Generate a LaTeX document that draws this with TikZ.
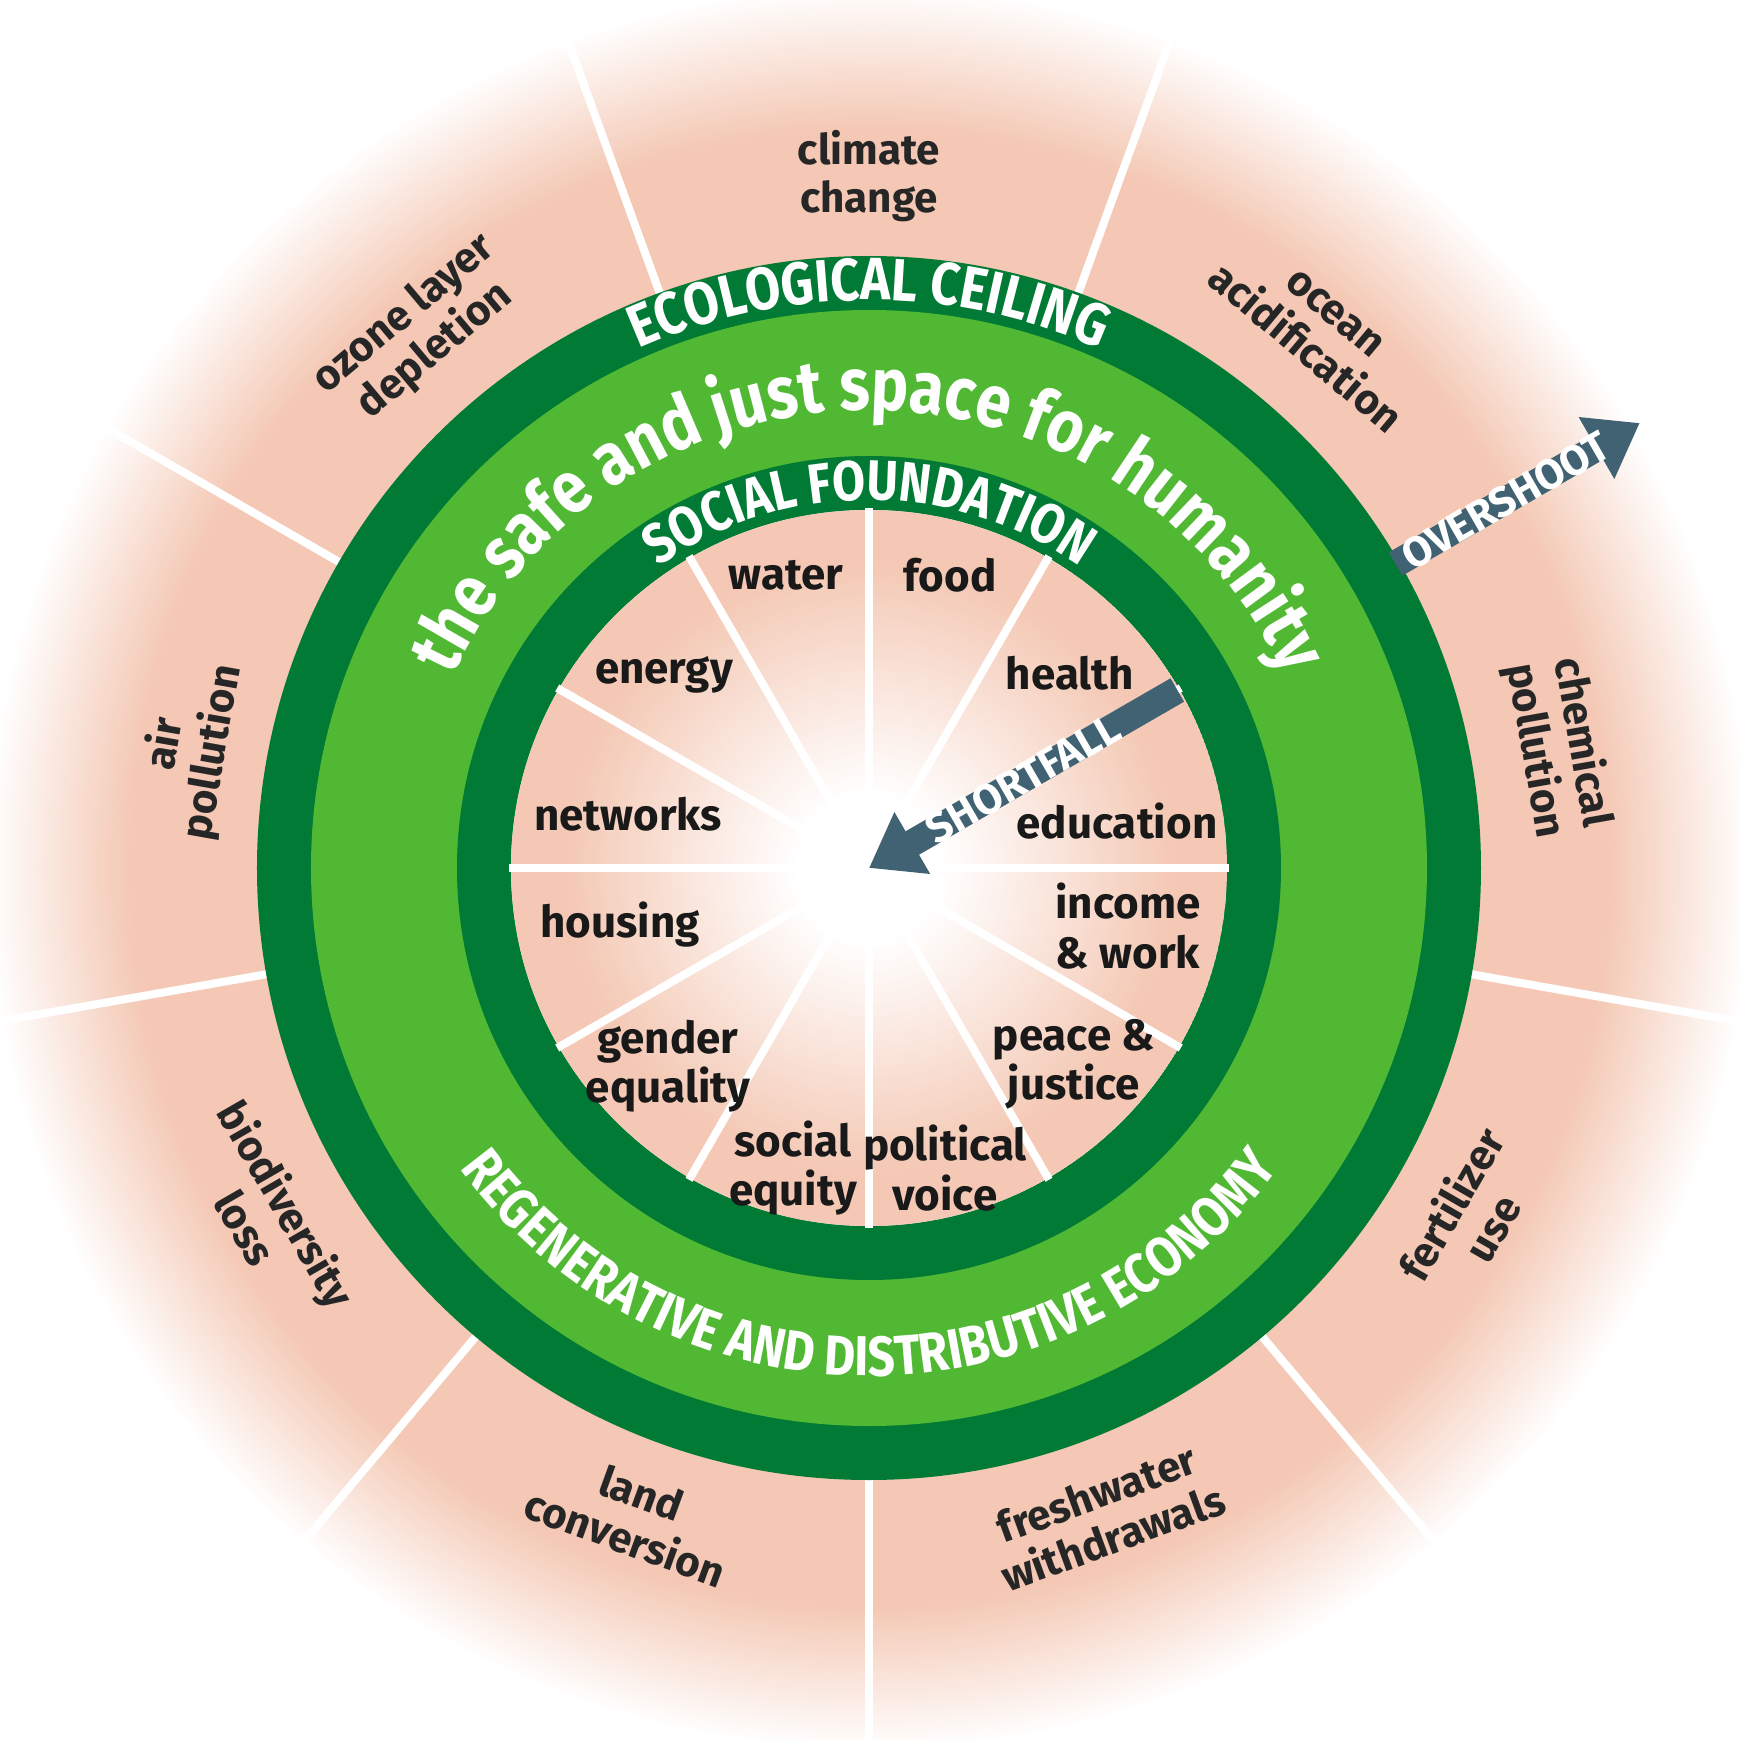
\documentclass[tikz,border=0pt]{standalone}
\usepackage{fontspec}
\setmainfont{Fira Sans}
\newfontfamily\capsfont[FakeStretch=0.85]{Fira Sans}
\usepackage{tikz}
\usetikzlibrary{positioning,arrows.meta,decorations.text}
\definecolor{salmon}{RGB}{244,200,180}
\definecolor{ceilgreen}{RGB}{0,122,52}
\definecolor{spacegreen}{RGB}{80,184,50}
\definecolor{arrowblue}{RGB}{64,98,114}
\pgfdeclareradialshading{donutglow}{\pgfpoint{0bp}{0bp}}{%
  color(0bp)=(white); color(2bp)=(white); color(8.5bp)=(salmon);
  color(20.5bp)=(salmon); color(24.5bp)=(white); color(50bp)=(white)}
\tikzset{
  outerlabel/.style={font=\bfseries\fontsize{12pt}{13.5pt}\selectfont, align=center, text=black!85},
  innerlabel/.style={font=\bfseries\fontsize{12.5pt}{14pt}\selectfont, align=center, text=black!90},
  divider/.style={white, line width=0.08cm},
  bigarrow/.style={arrowblue, line width=0.27cm, -{Triangle[length=0.5cm, width=0.68cm]}},
  arrowtext/.style={white, font=\bfseries\fontsize{12pt}{13pt}\selectfont, sloped},
}

\begin{document}
\begin{tikzpicture}
  \useasboundingbox (-8.69,-8.72) rectangle (8.71,8.68);
  \fill[white] (-8.69,-8.72) rectangle (8.71,8.68);
  \shade[shading=donutglow] (0,0) circle (9);

  % planetary boundary sectors
  \foreach \a in {70,110,150,190,230,270,310,350}
    \draw[divider] (\a:6.1) -- (\a:9.2);

  % the doughnut
  \fill[ceilgreen] (0,0) circle (6.12);
  \fill[spacegreen] (0,0) circle (5.58);
  \fill[ceilgreen] (0,0) circle (4.12);
  \begin{scope}
    \clip (0,0) circle (3.58);
    \fill[white] (0,0) circle (3.58);
    \shade[shading=donutglow] (0,0) circle (9);
  \end{scope}

  % social sectors
  \foreach \a in {0,30,...,330}
    \draw[divider] (\a:0.6) -- (\a:3.6);

  % ring titles
  \path[decorate, decoration={text along path, text align=center, text color=white,
        text={|\capsfont\bfseries\fontsize{17pt}{18pt}\selectfont|ECOLOGICAL CEILING}}]
    (125:5.68) arc[start angle=125, end angle=55, radius=5.68];
  \path[decorate, decoration={text along path, text align=center, text color=white,
        text={|\capsfont\bfseries\fontsize{16pt}{17pt}\selectfont|SOCIAL FOUNDATION}}]
    (135:3.68) arc[start angle=135, end angle=45, radius=3.68];
  \path[decorate, decoration={text along path, text align=center, text color=white,
        text={|\capsfont\bfseries\fontsize{21pt}{22pt}\selectfont|the safe and just space for humanity}}]
    (155:4.58) arc[start angle=155, end angle=25, radius=4.58];
  \path[decorate, decoration={text along path, text align=center, text color=white,
        text={|\capsfont\bfseries\fontsize{16pt}{17pt}\selectfont|REGENERATIVE AND DISTRIBUTIVE ECONOMY}}]
    (200:5.08) arc[start angle=200, end angle=340, radius=5.08];

  % overshoot and shortfall
  \coordinate (ceiling) at (30:6.08);
  \coordinate (overtip) at (30:8.9);
  \coordinate (foundation) at (30:3.56);
  \coordinate (core) at (0,0);
  \draw[bigarrow] (ceiling) -- (overtip) node[arrowtext, pos=0.45] {OVERSHOOT};
  \draw[bigarrow] (foundation) -- (core) node[arrowtext, pos=0.5] {SHORTFALL};

  % ecological ceiling labels
  \node[outerlabel] (climate) at (90:6.92) {climate\\change};
  \node[outerlabel, rotate=-40] (ocean) at (50:7.0) {ocean\\acidification};
  \node[outerlabel, rotate=-80] (chemical) at (10:7.0) {chemical\\pollution};
  \node[outerlabel, rotate=60] (fertilizer) at (330:6.95) {fertilizer\\use};
  \node[outerlabel, rotate=20] (freshwater) at (290:6.89) {freshwater\\withdrawals};
  \node[outerlabel, rotate=-20] (land) at (250:6.89) {land\\conversion};
  \node[outerlabel, rotate=-60] (biodiversity) at (210:6.95) {biodiversity\\loss};
  \node[outerlabel, rotate=80] (air) at (170:6.9) {air\\pollution};
  \node[outerlabel, rotate=40] (ozone) at (130:6.99) {ozone layer\\depletion};

  % social foundation labels
  \node[innerlabel] (water) at (-0.83,2.93) {water};
  \node[innerlabel] (food) at (0.81,2.93) {food};
  \node[innerlabel] (energy) at (-2.05,1.93) {energy};
  \node[innerlabel] (health) at (2.01,1.95) {health};
  \node[innerlabel] (networks) at (-2.41,0.54) {networks};
  \node[innerlabel] (education) at (2.48,0.47) {education};
  \node[innerlabel] (housing) at (-2.49,-0.57) {housing};
  \node[innerlabel] (income) at (2.59,-0.58) {income\\\& work};
  \node[innerlabel] (gender) at (-2.01,-1.98) {gender\\equality};
  \node[innerlabel] (peace) at (2.05,-1.96) {peace \&\\justice};
  \node[innerlabel] (equity) at (-0.76,-3.0) {social\\equity};
  \node[innerlabel] (voice) at (0.76,-3.0) {political\\voice};
\end{tikzpicture}
\end{document}
